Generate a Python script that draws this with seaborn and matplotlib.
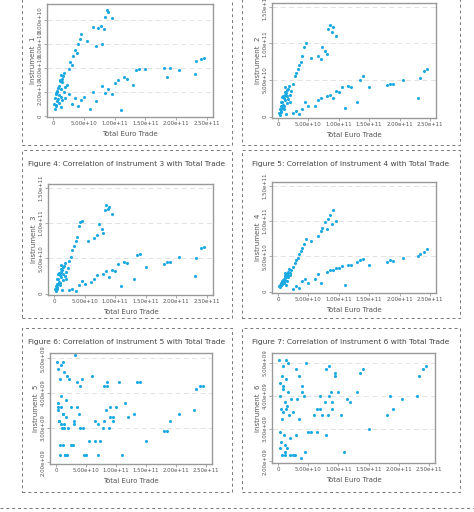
import matplotlib
matplotlib.use("Agg")
import matplotlib.pyplot as plt
import seaborn as sns
import numpy as np
import pandas as pd
from matplotlib.patches import Rectangle
from matplotlib.lines import Line2D

sns.set_theme(style="white")
plt.rcParams['font.family'] = ['DejaVu Sans']

# Total Euro Trade (units of 1e10)
total_trade = [0.2,0.3,0.4,0.5,0.6,0.7,0.8,0.9,1.0,1.1,1.2,1.3,1.4,1.5,1.6,1.7,1.8,1.9,2.0,2.2,
               0.3,0.5,0.7,0.9,1.1,1.3,1.5,0.4,0.8,1.2,
               2.5,2.8,3.0,3.2,3.5,3.8,4.0,4.3,4.6,5.5,6.5,7.0,7.3,7.8,8.0,8.3,8.5,8.8,9.0,9.5,
               2.5,3.0,3.5,4.0,4.5,5.0,6.0,6.5,7.0,8.0,8.5,9.0,9.5,10.0,10.5,11.0,11.5,12.0,13.0,13.5,
               14.0,15.0,18.0,18.5,19.0,20.5,23.0,23.3,24.0,24.5]

# Instruments 1-4 (units of 1e10)
instrument1 = [1.0,1.5,0.8,1.8,1.2,2.0,1.4,2.5,1.1,3.0,1.6,2.2,2.8,1.3,3.3,2.0,3.6,2.4,1.5,2.6,
               0.6,0.9,2.1,1.7,2.9,0.7,3.1,1.9,2.3,3.4,
               3.9,4.5,4.2,5.0,5.5,5.2,6.0,6.4,6.8,6.2,7.4,5.8,7.3,7.5,6.0,7.2,8.2,8.8,8.6,8.1,
               1.8,1.0,1.5,0.8,1.3,1.6,0.6,2.0,1.2,2.5,1.9,2.2,1.8,2.7,3.0,0.5,3.2,3.1,2.6,3.8,
               3.9,3.9,4.0,3.2,4.0,3.8,3.5,4.6,4.7,4.8]
instrument2 = [0.5,1.0,0.8,1.5,1.2,2.0,1.6,2.5,1.0,3.0,2.2,3.2,2.8,1.8,3.8,2.4,4.2,3.0,2.0,3.5,
               0.2,0.6,2.6,1.4,3.4,0.4,3.6,2.0,2.8,4.0,
               4.5,5.5,6.0,6.5,7.0,7.5,8.2,9.5,10.0,8.0,8.2,7.8,9.5,9.0,8.5,12.0,12.5,11.5,12.2,11.0,
               0.5,0.8,0.3,1.0,2.0,1.5,1.5,2.2,2.5,2.8,3.0,2.5,3.5,3.3,4.0,1.2,4.2,4.0,2.0,5.0,
               5.5,4.0,4.3,4.5,4.4,5.0,2.5,5.2,6.2,6.5]
instrument3 = [0.6,1.1,0.9,1.4,1.3,2.1,1.7,2.6,1.2,3.1,2.3,3.3,2.7,1.9,3.9,2.5,4.3,3.1,2.1,3.6,
               0.3,0.7,2.7,1.5,3.5,0.5,3.7,2.1,2.9,4.1,
               4.6,5.2,6.2,6.8,7.5,8.0,9.5,10.1,10.2,7.4,7.8,8.3,9.8,9.2,8.6,11.8,12.6,12.0,12.3,11.2,
               0.5,0.6,0.4,1.2,1.8,1.4,1.6,2.0,2.6,2.7,3.2,2.4,3.3,3.2,4.2,1.1,4.4,4.3,2.0,5.5,
               5.6,3.8,4.2,4.5,4.4,5.2,2.5,5.0,6.4,6.6]
instrument4 = [0.8,1.0,0.9,1.2,1.1,1.5,1.3,1.8,1.4,2.2,1.6,2.0,2.5,1.5,2.8,2.0,3.2,2.4,2.6,3.0,
               0.7,0.9,1.4,1.2,2.2,1.0,2.4,1.1,1.6,2.6,
               3.5,4.0,4.4,4.8,5.3,5.8,6.2,6.8,7.5,7.2,7.8,8.5,9.0,9.8,8.8,10.2,10.8,9.5,11.5,10.0,
               0.3,0.8,0.5,1.5,1.8,1.2,1.8,2.5,1.2,2.8,3.0,3.0,3.3,3.4,3.6,0.9,3.8,3.8,4.2,4.5,
               4.6,3.8,4.2,4.4,4.3,4.7,5.0,5.3,5.6,6.0]

# Instruments 5-6 (units of 1e9)
instrument5 = [4.9,3.5,4.7,3.2,4.4,2.2,3.6,4.8,3.0,2.5,3.4,4.6,3.1,2.2,3.8,3.3,4.5,2.2,3.0,4.4,
               3.6,3.2,2.5,3.9,3.4,3.0,2.2,3.7,3.1,4.9,
               3.6,2.5,3.2,5.1,4.3,3.4,3.0,4.4,2.2,2.6,3.2,2.2,2.6,3.0,4.2,3.5,4.3,3.0,3.3,3.2,
               2.5,3.1,3.6,4.2,3.0,2.2,4.5,2.6,3.1,3.2,4.2,3.6,3.3,3.6,4.3,2.2,3.7,3.3,3.4,4.3,
               4.3,2.6,2.9,2.9,3.2,3.4,3.5,4.1,4.2,4.2]
instrument6 = [5.1,4.0,2.4,3.6,4.6,2.2,3.5,4.9,2.8,3.8,2.2,4.5,3.6,2.4,5.0,4.1,3.4,2.7,2.2,3.9,
               4.4,2.6,3.3,4.2,2.5,5.1,3.7,2.9,4.3,2.3,
               3.5,2.2,4.8,3.9,4.6,2.1,4.3,4.0,5.0,2.9,2.9,3.6,3.4,3.8,4.8,3.4,4.9,4.1,3.8,4.7,
               2.2,2.8,3.3,4.1,2.3,2.9,3.4,3.6,4.0,2.8,4.0,3.6,4.6,4.1,3.4,2.3,3.9,3.8,4.1,4.7,
               4.8,3.0,3.4,4.0,3.6,3.9,4.0,4.6,4.8,4.9]

ser = [("Instrument  1", instrument1, 1e10), ("Instrument  2", instrument2, 1e10),
       ("Instrument  3", instrument3, 1e10), ("Instrument  4", instrument4, 1e10),
       ("Instrument  5", instrument5, 1e9), ("Instrument  6", instrument6, 1e9)]
yticks = [[0, 2e10, 4e10, 6e10, 8e10], [0, 5e10, 1e11, 1.5e11], [0, 5e10, 1e11, 1.5e11],
          [0, 5e10, 1e11, 1.5e11], [2e9, 3e9, 4e9, 5e9], [2e9, 3e9, 4e9, 5e9]]
ylabs = [["0", "2.00e+10", "4.00e+10", "6.00e+10", "8.00e+10"],
         ["0", "5.00e+10", "1.00e+11", "1.50e+11"], ["0", "5.00e+10", "1.00e+11", "1.50e+11"],
         ["0", "5.00e+10", "1.00e+11", "1.50e+11"],
         ["2.00e+09", "3.00e+09", "4.00e+09", "5.00e+09"], ["2.00e+09", "3.00e+09", "4.00e+09", "5.00e+09"]]
ylims = [(-1e9, 9.3e10), (-2e9, 1.55e11), (-2e9, 1.55e11), (-2e9, 1.55e11), (1.95e9, 5.15e9), (1.95e9, 5.3e9)]
titles = [None, None, "Figure 4: Correlation of Instrument 3 with Total Trade",
          "Figure 5: Correlation of Instrument 4 with Total Trade",
          "Figure 6: Correlation of Instrument 5 with Total Trade",
          "Figure 7: Correlation of Instrument 6 with Total Trade"]
xticks = [0, 5e10, 1e11, 1.5e11, 2e11, 2.5e11]
xlabs = ["0", "5.00e+10", "1.00e+11", "1.50e+11", "2.00e+11", "2.50e+11"]

W, H = 474, 512
fig = plt.figure(figsize=(W/100, H/100), dpi=100)
boxes = [(47, 4, 213, 117), (272, 3, 436, 118), (48, 184, 213, 295),
         (272, 182, 436, 293), (50, 353, 212, 464), (272, 353, 435, 463)]
frames = [(22, -10, 232, 145), (242, -10, 460, 145), (22, 150, 232, 318),
          (242, 150, 460, 318), (22, 328, 232, 492), (242, 328, 460, 492)]
blue = "#1ba9e1"
for i, ((l, t, r, b), (name, vals, sc)) in enumerate(zip(boxes, ser)):
    ax = fig.add_axes([l/W, 1-b/H, (r-l)/W, (b-t)/H])
    df = pd.DataFrame({"x": np.array(total_trade)*1e10, "y": np.array(vals)*sc})
    sns.scatterplot(data=df, x="x", y="y", ax=ax, color=blue, s=5, linewidth=0)
    ax.set_xlim(-1e10, 2.6e11)
    ax.set_ylim(*ylims[i])
    ax.set_xticks(xticks)
    ax.set_xticklabels(xlabs, fontsize=3.9, color="#555555")
    ax.set_yticks(yticks[i])
    ax.set_yticklabels(ylabs[i], fontsize=3.9, color="#555555", rotation=90, va="center")
    ax.tick_params(length=2, width=0.5, color="#888888", pad=1.2, left=True, bottom=True)
    for yt in yticks[i][1:]:
        ax.axhline(yt, color="#dddddd", lw=0.6, ls=(0, (6, 4)), zorder=0)
    ax.set_xlabel("Total Euro Trade", fontsize=5, color="#555555", labelpad=3)
    ax.set_ylabel(name, fontsize=5, color="#555555", labelpad=1)
    for s in ax.spines.values():
        s.set_color("#999999"); s.set_linewidth(1.0)
    fl, ft, fr, fb = frames[i]
    fig.patches.append(Rectangle((fl/W, 1-fb/H), (fr-fl)/W, (fb-ft)/H, transform=fig.transFigure,
                                 fill=False, ls=(0, (3, 3)), lw=0.7, ec="#777777"))
    if titles[i]:
        fig.text((fl+fr)/2/W, 1-(ft+14)/H, titles[i], ha="center", va="center", fontsize=5.4, color="#444444")
fig.lines.append(Line2D([0, 1], [1-508/H, 1-508/H], transform=fig.transFigure, ls=(0, (3, 3)), lw=0.7, color="#777777"))
fig.savefig("out.png", dpi=100)
